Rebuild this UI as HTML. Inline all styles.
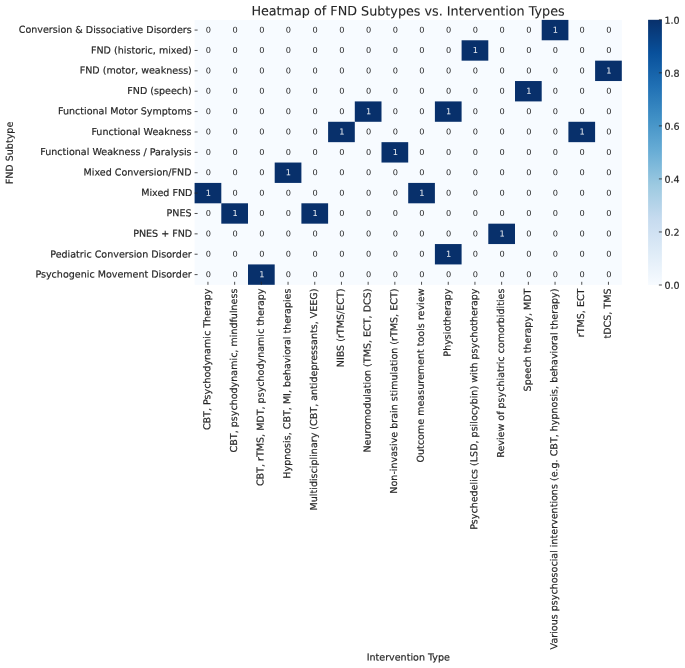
<!DOCTYPE html>
<html lang="en"><head><meta charset="utf-8"><title>Heatmap of FND Subtypes vs. Intervention Types</title>
<style>html,body{margin:0;padding:0;background:#fff}body{width:685px;height:668px;overflow:hidden}svg{display:block}text{font-family:"DejaVu Sans","Liberation Sans",sans-serif;fill:#262626;stroke:#262626;stroke-width:0.18px}.an text{stroke-width:0px}</style></head><body>
<svg width="685" height="668" viewBox="0 0 685 668">
<defs><linearGradient id="blues" x1="0" y1="1" x2="0" y2="0">
<stop offset="0" stop-color="#f7fbff"/>
<stop offset="0.125" stop-color="#deebf7"/>
<stop offset="0.25" stop-color="#c6dbef"/>
<stop offset="0.375" stop-color="#9dcae1"/>
<stop offset="0.5" stop-color="#6aaed6"/>
<stop offset="0.625" stop-color="#4191c6"/>
<stop offset="0.75" stop-color="#2070b4"/>
<stop offset="0.875" stop-color="#08509b"/>
<stop offset="1" stop-color="#08306b"/>
</linearGradient></defs>
<rect width="685" height="668" fill="#ffffff"/>
<text transform="matrix(1 0.0005 0 1 408.00 15.40)" font-size="12.76" text-anchor="middle" style="stroke-width:0.1px">Heatmap of FND Subtypes vs. Intervention Types</text>
<rect x="194.60" y="19.90" width="427.20" height="264.90" fill="#f7fbff"/>
<rect x="541.70" y="19.90" width="26.70" height="20.38" fill="#08306b"/>
<rect x="461.60" y="40.28" width="26.70" height="20.38" fill="#08306b"/>
<rect x="595.10" y="60.65" width="26.70" height="20.38" fill="#08306b"/>
<rect x="515.00" y="81.03" width="26.70" height="20.38" fill="#08306b"/>
<rect x="354.80" y="101.41" width="26.70" height="20.38" fill="#08306b"/>
<rect x="434.90" y="101.41" width="26.70" height="20.38" fill="#08306b"/>
<rect x="328.10" y="121.78" width="26.70" height="20.38" fill="#08306b"/>
<rect x="568.40" y="121.78" width="26.70" height="20.38" fill="#08306b"/>
<rect x="381.50" y="142.16" width="26.70" height="20.38" fill="#08306b"/>
<rect x="274.70" y="162.54" width="26.70" height="20.38" fill="#08306b"/>
<rect x="194.60" y="182.92" width="26.70" height="20.38" fill="#08306b"/>
<rect x="408.20" y="182.92" width="26.70" height="20.38" fill="#08306b"/>
<rect x="221.30" y="203.29" width="26.70" height="20.38" fill="#08306b"/>
<rect x="301.40" y="203.29" width="26.70" height="20.38" fill="#08306b"/>
<rect x="488.30" y="223.67" width="26.70" height="20.38" fill="#08306b"/>
<rect x="434.90" y="244.05" width="26.70" height="20.38" fill="#08306b"/>
<rect x="248.00" y="264.42" width="26.70" height="20.38" fill="#08306b"/>
<g class="an" font-size="8.20" text-anchor="middle">
<text transform="matrix(1 0.0005 0 1 208.35 32.69)">0</text>
<text transform="matrix(1 0.0005 0 1 235.05 32.69)">0</text>
<text transform="matrix(1 0.0005 0 1 261.75 32.69)">0</text>
<text transform="matrix(1 0.0005 0 1 288.45 32.69)">0</text>
<text transform="matrix(1 0.0005 0 1 315.15 32.69)">0</text>
<text transform="matrix(1 0.0005 0 1 341.85 32.69)">0</text>
<text transform="matrix(1 0.0005 0 1 368.55 32.69)">0</text>
<text transform="matrix(1 0.0005 0 1 395.25 32.69)">0</text>
<text transform="matrix(1 0.0005 0 1 421.95 32.69)">0</text>
<text transform="matrix(1 0.0005 0 1 448.65 32.69)">0</text>
<text transform="matrix(1 0.0005 0 1 475.35 32.69)">0</text>
<text transform="matrix(1 0.0005 0 1 502.05 32.69)">0</text>
<text transform="matrix(1 0.0005 0 1 528.75 32.69)">0</text>
<text transform="matrix(1 0.0005 0 1 555.45 32.69)" style="fill:#ffffff;stroke:none;fill-opacity:0.9">1</text>
<text transform="matrix(1 0.0005 0 1 582.15 32.69)">0</text>
<text transform="matrix(1 0.0005 0 1 608.85 32.69)">0</text>
<text transform="matrix(1 0.0005 0 1 208.35 53.07)">0</text>
<text transform="matrix(1 0.0005 0 1 235.05 53.07)">0</text>
<text transform="matrix(1 0.0005 0 1 261.75 53.07)">0</text>
<text transform="matrix(1 0.0005 0 1 288.45 53.07)">0</text>
<text transform="matrix(1 0.0005 0 1 315.15 53.07)">0</text>
<text transform="matrix(1 0.0005 0 1 341.85 53.07)">0</text>
<text transform="matrix(1 0.0005 0 1 368.55 53.07)">0</text>
<text transform="matrix(1 0.0005 0 1 395.25 53.07)">0</text>
<text transform="matrix(1 0.0005 0 1 421.95 53.07)">0</text>
<text transform="matrix(1 0.0005 0 1 448.65 53.07)">0</text>
<text transform="matrix(1 0.0005 0 1 475.35 53.07)" style="fill:#ffffff;stroke:none;fill-opacity:0.9">1</text>
<text transform="matrix(1 0.0005 0 1 502.05 53.07)">0</text>
<text transform="matrix(1 0.0005 0 1 528.75 53.07)">0</text>
<text transform="matrix(1 0.0005 0 1 555.45 53.07)">0</text>
<text transform="matrix(1 0.0005 0 1 582.15 53.07)">0</text>
<text transform="matrix(1 0.0005 0 1 608.85 53.07)">0</text>
<text transform="matrix(1 0.0005 0 1 208.35 73.44)">0</text>
<text transform="matrix(1 0.0005 0 1 235.05 73.44)">0</text>
<text transform="matrix(1 0.0005 0 1 261.75 73.44)">0</text>
<text transform="matrix(1 0.0005 0 1 288.45 73.44)">0</text>
<text transform="matrix(1 0.0005 0 1 315.15 73.44)">0</text>
<text transform="matrix(1 0.0005 0 1 341.85 73.44)">0</text>
<text transform="matrix(1 0.0005 0 1 368.55 73.44)">0</text>
<text transform="matrix(1 0.0005 0 1 395.25 73.44)">0</text>
<text transform="matrix(1 0.0005 0 1 421.95 73.44)">0</text>
<text transform="matrix(1 0.0005 0 1 448.65 73.44)">0</text>
<text transform="matrix(1 0.0005 0 1 475.35 73.44)">0</text>
<text transform="matrix(1 0.0005 0 1 502.05 73.44)">0</text>
<text transform="matrix(1 0.0005 0 1 528.75 73.44)">0</text>
<text transform="matrix(1 0.0005 0 1 555.45 73.44)">0</text>
<text transform="matrix(1 0.0005 0 1 582.15 73.44)">0</text>
<text transform="matrix(1 0.0005 0 1 608.85 73.44)" style="fill:#ffffff;stroke:none;fill-opacity:0.9">1</text>
<text transform="matrix(1 0.0005 0 1 208.35 93.82)">0</text>
<text transform="matrix(1 0.0005 0 1 235.05 93.82)">0</text>
<text transform="matrix(1 0.0005 0 1 261.75 93.82)">0</text>
<text transform="matrix(1 0.0005 0 1 288.45 93.82)">0</text>
<text transform="matrix(1 0.0005 0 1 315.15 93.82)">0</text>
<text transform="matrix(1 0.0005 0 1 341.85 93.82)">0</text>
<text transform="matrix(1 0.0005 0 1 368.55 93.82)">0</text>
<text transform="matrix(1 0.0005 0 1 395.25 93.82)">0</text>
<text transform="matrix(1 0.0005 0 1 421.95 93.82)">0</text>
<text transform="matrix(1 0.0005 0 1 448.65 93.82)">0</text>
<text transform="matrix(1 0.0005 0 1 475.35 93.82)">0</text>
<text transform="matrix(1 0.0005 0 1 502.05 93.82)">0</text>
<text transform="matrix(1 0.0005 0 1 528.75 93.82)" style="fill:#ffffff;stroke:none;fill-opacity:0.9">1</text>
<text transform="matrix(1 0.0005 0 1 555.45 93.82)">0</text>
<text transform="matrix(1 0.0005 0 1 582.15 93.82)">0</text>
<text transform="matrix(1 0.0005 0 1 608.85 93.82)">0</text>
<text transform="matrix(1 0.0005 0 1 208.35 114.20)">0</text>
<text transform="matrix(1 0.0005 0 1 235.05 114.20)">0</text>
<text transform="matrix(1 0.0005 0 1 261.75 114.20)">0</text>
<text transform="matrix(1 0.0005 0 1 288.45 114.20)">0</text>
<text transform="matrix(1 0.0005 0 1 315.15 114.20)">0</text>
<text transform="matrix(1 0.0005 0 1 341.85 114.20)">0</text>
<text transform="matrix(1 0.0005 0 1 368.55 114.20)" style="fill:#ffffff;stroke:none;fill-opacity:0.9">1</text>
<text transform="matrix(1 0.0005 0 1 395.25 114.20)">0</text>
<text transform="matrix(1 0.0005 0 1 421.95 114.20)">0</text>
<text transform="matrix(1 0.0005 0 1 448.65 114.20)" style="fill:#ffffff;stroke:none;fill-opacity:0.9">1</text>
<text transform="matrix(1 0.0005 0 1 475.35 114.20)">0</text>
<text transform="matrix(1 0.0005 0 1 502.05 114.20)">0</text>
<text transform="matrix(1 0.0005 0 1 528.75 114.20)">0</text>
<text transform="matrix(1 0.0005 0 1 555.45 114.20)">0</text>
<text transform="matrix(1 0.0005 0 1 582.15 114.20)">0</text>
<text transform="matrix(1 0.0005 0 1 608.85 114.20)">0</text>
<text transform="matrix(1 0.0005 0 1 208.35 134.57)">0</text>
<text transform="matrix(1 0.0005 0 1 235.05 134.57)">0</text>
<text transform="matrix(1 0.0005 0 1 261.75 134.57)">0</text>
<text transform="matrix(1 0.0005 0 1 288.45 134.57)">0</text>
<text transform="matrix(1 0.0005 0 1 315.15 134.57)">0</text>
<text transform="matrix(1 0.0005 0 1 341.85 134.57)" style="fill:#ffffff;stroke:none;fill-opacity:0.9">1</text>
<text transform="matrix(1 0.0005 0 1 368.55 134.57)">0</text>
<text transform="matrix(1 0.0005 0 1 395.25 134.57)">0</text>
<text transform="matrix(1 0.0005 0 1 421.95 134.57)">0</text>
<text transform="matrix(1 0.0005 0 1 448.65 134.57)">0</text>
<text transform="matrix(1 0.0005 0 1 475.35 134.57)">0</text>
<text transform="matrix(1 0.0005 0 1 502.05 134.57)">0</text>
<text transform="matrix(1 0.0005 0 1 528.75 134.57)">0</text>
<text transform="matrix(1 0.0005 0 1 555.45 134.57)">0</text>
<text transform="matrix(1 0.0005 0 1 582.15 134.57)" style="fill:#ffffff;stroke:none;fill-opacity:0.9">1</text>
<text transform="matrix(1 0.0005 0 1 608.85 134.57)">0</text>
<text transform="matrix(1 0.0005 0 1 208.35 154.95)">0</text>
<text transform="matrix(1 0.0005 0 1 235.05 154.95)">0</text>
<text transform="matrix(1 0.0005 0 1 261.75 154.95)">0</text>
<text transform="matrix(1 0.0005 0 1 288.45 154.95)">0</text>
<text transform="matrix(1 0.0005 0 1 315.15 154.95)">0</text>
<text transform="matrix(1 0.0005 0 1 341.85 154.95)">0</text>
<text transform="matrix(1 0.0005 0 1 368.55 154.95)">0</text>
<text transform="matrix(1 0.0005 0 1 395.25 154.95)" style="fill:#ffffff;stroke:none;fill-opacity:0.9">1</text>
<text transform="matrix(1 0.0005 0 1 421.95 154.95)">0</text>
<text transform="matrix(1 0.0005 0 1 448.65 154.95)">0</text>
<text transform="matrix(1 0.0005 0 1 475.35 154.95)">0</text>
<text transform="matrix(1 0.0005 0 1 502.05 154.95)">0</text>
<text transform="matrix(1 0.0005 0 1 528.75 154.95)">0</text>
<text transform="matrix(1 0.0005 0 1 555.45 154.95)">0</text>
<text transform="matrix(1 0.0005 0 1 582.15 154.95)">0</text>
<text transform="matrix(1 0.0005 0 1 608.85 154.95)">0</text>
<text transform="matrix(1 0.0005 0 1 208.35 175.33)">0</text>
<text transform="matrix(1 0.0005 0 1 235.05 175.33)">0</text>
<text transform="matrix(1 0.0005 0 1 261.75 175.33)">0</text>
<text transform="matrix(1 0.0005 0 1 288.45 175.33)" style="fill:#ffffff;stroke:none;fill-opacity:0.9">1</text>
<text transform="matrix(1 0.0005 0 1 315.15 175.33)">0</text>
<text transform="matrix(1 0.0005 0 1 341.85 175.33)">0</text>
<text transform="matrix(1 0.0005 0 1 368.55 175.33)">0</text>
<text transform="matrix(1 0.0005 0 1 395.25 175.33)">0</text>
<text transform="matrix(1 0.0005 0 1 421.95 175.33)">0</text>
<text transform="matrix(1 0.0005 0 1 448.65 175.33)">0</text>
<text transform="matrix(1 0.0005 0 1 475.35 175.33)">0</text>
<text transform="matrix(1 0.0005 0 1 502.05 175.33)">0</text>
<text transform="matrix(1 0.0005 0 1 528.75 175.33)">0</text>
<text transform="matrix(1 0.0005 0 1 555.45 175.33)">0</text>
<text transform="matrix(1 0.0005 0 1 582.15 175.33)">0</text>
<text transform="matrix(1 0.0005 0 1 608.85 175.33)">0</text>
<text transform="matrix(1 0.0005 0 1 208.35 195.70)" style="fill:#ffffff;stroke:none;fill-opacity:0.9">1</text>
<text transform="matrix(1 0.0005 0 1 235.05 195.70)">0</text>
<text transform="matrix(1 0.0005 0 1 261.75 195.70)">0</text>
<text transform="matrix(1 0.0005 0 1 288.45 195.70)">0</text>
<text transform="matrix(1 0.0005 0 1 315.15 195.70)">0</text>
<text transform="matrix(1 0.0005 0 1 341.85 195.70)">0</text>
<text transform="matrix(1 0.0005 0 1 368.55 195.70)">0</text>
<text transform="matrix(1 0.0005 0 1 395.25 195.70)">0</text>
<text transform="matrix(1 0.0005 0 1 421.95 195.70)" style="fill:#ffffff;stroke:none;fill-opacity:0.9">1</text>
<text transform="matrix(1 0.0005 0 1 448.65 195.70)">0</text>
<text transform="matrix(1 0.0005 0 1 475.35 195.70)">0</text>
<text transform="matrix(1 0.0005 0 1 502.05 195.70)">0</text>
<text transform="matrix(1 0.0005 0 1 528.75 195.70)">0</text>
<text transform="matrix(1 0.0005 0 1 555.45 195.70)">0</text>
<text transform="matrix(1 0.0005 0 1 582.15 195.70)">0</text>
<text transform="matrix(1 0.0005 0 1 608.85 195.70)">0</text>
<text transform="matrix(1 0.0005 0 1 208.35 216.08)">0</text>
<text transform="matrix(1 0.0005 0 1 235.05 216.08)" style="fill:#ffffff;stroke:none;fill-opacity:0.9">1</text>
<text transform="matrix(1 0.0005 0 1 261.75 216.08)">0</text>
<text transform="matrix(1 0.0005 0 1 288.45 216.08)">0</text>
<text transform="matrix(1 0.0005 0 1 315.15 216.08)" style="fill:#ffffff;stroke:none;fill-opacity:0.9">1</text>
<text transform="matrix(1 0.0005 0 1 341.85 216.08)">0</text>
<text transform="matrix(1 0.0005 0 1 368.55 216.08)">0</text>
<text transform="matrix(1 0.0005 0 1 395.25 216.08)">0</text>
<text transform="matrix(1 0.0005 0 1 421.95 216.08)">0</text>
<text transform="matrix(1 0.0005 0 1 448.65 216.08)">0</text>
<text transform="matrix(1 0.0005 0 1 475.35 216.08)">0</text>
<text transform="matrix(1 0.0005 0 1 502.05 216.08)">0</text>
<text transform="matrix(1 0.0005 0 1 528.75 216.08)">0</text>
<text transform="matrix(1 0.0005 0 1 555.45 216.08)">0</text>
<text transform="matrix(1 0.0005 0 1 582.15 216.08)">0</text>
<text transform="matrix(1 0.0005 0 1 608.85 216.08)">0</text>
<text transform="matrix(1 0.0005 0 1 208.35 236.46)">0</text>
<text transform="matrix(1 0.0005 0 1 235.05 236.46)">0</text>
<text transform="matrix(1 0.0005 0 1 261.75 236.46)">0</text>
<text transform="matrix(1 0.0005 0 1 288.45 236.46)">0</text>
<text transform="matrix(1 0.0005 0 1 315.15 236.46)">0</text>
<text transform="matrix(1 0.0005 0 1 341.85 236.46)">0</text>
<text transform="matrix(1 0.0005 0 1 368.55 236.46)">0</text>
<text transform="matrix(1 0.0005 0 1 395.25 236.46)">0</text>
<text transform="matrix(1 0.0005 0 1 421.95 236.46)">0</text>
<text transform="matrix(1 0.0005 0 1 448.65 236.46)">0</text>
<text transform="matrix(1 0.0005 0 1 475.35 236.46)">0</text>
<text transform="matrix(1 0.0005 0 1 502.05 236.46)" style="fill:#ffffff;stroke:none;fill-opacity:0.9">1</text>
<text transform="matrix(1 0.0005 0 1 528.75 236.46)">0</text>
<text transform="matrix(1 0.0005 0 1 555.45 236.46)">0</text>
<text transform="matrix(1 0.0005 0 1 582.15 236.46)">0</text>
<text transform="matrix(1 0.0005 0 1 608.85 236.46)">0</text>
<text transform="matrix(1 0.0005 0 1 208.35 256.83)">0</text>
<text transform="matrix(1 0.0005 0 1 235.05 256.83)">0</text>
<text transform="matrix(1 0.0005 0 1 261.75 256.83)">0</text>
<text transform="matrix(1 0.0005 0 1 288.45 256.83)">0</text>
<text transform="matrix(1 0.0005 0 1 315.15 256.83)">0</text>
<text transform="matrix(1 0.0005 0 1 341.85 256.83)">0</text>
<text transform="matrix(1 0.0005 0 1 368.55 256.83)">0</text>
<text transform="matrix(1 0.0005 0 1 395.25 256.83)">0</text>
<text transform="matrix(1 0.0005 0 1 421.95 256.83)">0</text>
<text transform="matrix(1 0.0005 0 1 448.65 256.83)" style="fill:#ffffff;stroke:none;fill-opacity:0.9">1</text>
<text transform="matrix(1 0.0005 0 1 475.35 256.83)">0</text>
<text transform="matrix(1 0.0005 0 1 502.05 256.83)">0</text>
<text transform="matrix(1 0.0005 0 1 528.75 256.83)">0</text>
<text transform="matrix(1 0.0005 0 1 555.45 256.83)">0</text>
<text transform="matrix(1 0.0005 0 1 582.15 256.83)">0</text>
<text transform="matrix(1 0.0005 0 1 608.85 256.83)">0</text>
<text transform="matrix(1 0.0005 0 1 208.35 277.21)">0</text>
<text transform="matrix(1 0.0005 0 1 235.05 277.21)">0</text>
<text transform="matrix(1 0.0005 0 1 261.75 277.21)" style="fill:#ffffff;stroke:none;fill-opacity:0.9">1</text>
<text transform="matrix(1 0.0005 0 1 288.45 277.21)">0</text>
<text transform="matrix(1 0.0005 0 1 315.15 277.21)">0</text>
<text transform="matrix(1 0.0005 0 1 341.85 277.21)">0</text>
<text transform="matrix(1 0.0005 0 1 368.55 277.21)">0</text>
<text transform="matrix(1 0.0005 0 1 395.25 277.21)">0</text>
<text transform="matrix(1 0.0005 0 1 421.95 277.21)">0</text>
<text transform="matrix(1 0.0005 0 1 448.65 277.21)">0</text>
<text transform="matrix(1 0.0005 0 1 475.35 277.21)">0</text>
<text transform="matrix(1 0.0005 0 1 502.05 277.21)">0</text>
<text transform="matrix(1 0.0005 0 1 528.75 277.21)">0</text>
<text transform="matrix(1 0.0005 0 1 555.45 277.21)">0</text>
<text transform="matrix(1 0.0005 0 1 582.15 277.21)">0</text>
<text transform="matrix(1 0.0005 0 1 608.85 277.21)">0</text>
</g>
<g font-size="9.56" text-anchor="end">
<text transform="matrix(1 0.0005 0 1 191.70 32.94)">Conversion &amp; Dissociative Disorders</text>
<text transform="matrix(1 0.0005 0 1 191.85 53.47)">FND (historic, mixed)</text>
<text transform="matrix(1 0.0005 0 1 191.85 73.64)">FND (motor, weakness)</text>
<text transform="matrix(1 0.0005 0 1 191.85 94.02)">FND (speech)</text>
<text transform="matrix(1 0.0005 0 1 191.70 114.40)">Functional Motor Symptoms</text>
<text transform="matrix(1 0.0005 0 1 191.55 135.12)">Functional Weakness</text>
<text transform="matrix(1 0.0005 0 1 191.55 155.15)">Functional Weakness / Paralysis</text>
<text transform="matrix(1 0.0005 0 1 191.55 175.53)">Mixed Conversion/FND</text>
<text transform="matrix(1 0.0005 0 1 192.40 195.90)">Mixed FND</text>
<text transform="matrix(1 0.0005 0 1 191.50 216.28)">PNES</text>
<text transform="matrix(1 0.0005 0 1 192.20 236.81)">PNES + FND</text>
<text transform="matrix(1 0.0005 0 1 191.70 257.58)">Pediatric Conversion Disorder</text>
<text transform="matrix(1 0.0005 0 1 191.70 277.56)">Psychogenic Movement Disorder</text>
</g>
<g stroke="#262626" stroke-width="0.9" stroke-opacity="0.9">
<line x1="194.60" y1="30.09" x2="197.60" y2="30.09"/>
<line x1="194.60" y1="50.47" x2="197.60" y2="50.47"/>
<line x1="194.60" y1="70.84" x2="197.60" y2="70.84"/>
<line x1="194.60" y1="91.22" x2="197.60" y2="91.22"/>
<line x1="194.60" y1="111.60" x2="197.60" y2="111.60"/>
<line x1="194.60" y1="131.97" x2="197.60" y2="131.97"/>
<line x1="194.60" y1="152.35" x2="197.60" y2="152.35"/>
<line x1="194.60" y1="172.73" x2="197.60" y2="172.73"/>
<line x1="194.60" y1="193.10" x2="197.60" y2="193.10"/>
<line x1="194.60" y1="213.48" x2="197.60" y2="213.48"/>
<line x1="194.60" y1="233.86" x2="197.60" y2="233.86"/>
<line x1="194.60" y1="254.23" x2="197.60" y2="254.23"/>
<line x1="194.60" y1="274.61" x2="197.60" y2="274.61"/>
<line x1="207.95" y1="281.80" x2="207.95" y2="284.80"/>
<line x1="234.65" y1="281.80" x2="234.65" y2="284.80"/>
<line x1="261.35" y1="281.80" x2="261.35" y2="284.80"/>
<line x1="288.05" y1="281.80" x2="288.05" y2="284.80"/>
<line x1="314.75" y1="281.80" x2="314.75" y2="284.80"/>
<line x1="341.45" y1="281.80" x2="341.45" y2="284.80"/>
<line x1="368.15" y1="281.80" x2="368.15" y2="284.80"/>
<line x1="394.85" y1="281.80" x2="394.85" y2="284.80"/>
<line x1="421.55" y1="281.80" x2="421.55" y2="284.80"/>
<line x1="448.25" y1="281.80" x2="448.25" y2="284.80"/>
<line x1="474.95" y1="281.80" x2="474.95" y2="284.80"/>
<line x1="501.65" y1="281.80" x2="501.65" y2="284.80"/>
<line x1="528.35" y1="281.80" x2="528.35" y2="284.80"/>
<line x1="555.05" y1="281.80" x2="555.05" y2="284.80"/>
<line x1="581.75" y1="281.80" x2="581.75" y2="284.80"/>
<line x1="608.45" y1="281.80" x2="608.45" y2="284.80"/>
</g>
<g font-size="9.56" text-anchor="end">
<text transform="matrix(0.0005 -1 1 0 210.30 288.55)">CBT, Psychodynamic Therapy</text>
<text transform="matrix(0.0005 -1 1 0 237.00 288.55)">CBT, psychodynamic, mindfulness</text>
<text transform="matrix(0.0005 -1 1 0 263.70 288.55)">CBT, rTMS, MDT, psychodynamic therapy</text>
<text transform="matrix(0.0005 -1 1 0 290.40 288.55)">Hypnosis, CBT, MI, behavioral therapies</text>
<text transform="matrix(0.0005 -1 1 0 317.10 288.55)">Multidisciplinary (CBT, antidepressants, VEEG)</text>
<text transform="matrix(0.0005 -1 1 0 343.80 288.55)">NIBS (rTMS/ECT)</text>
<text transform="matrix(0.0005 -1 1 0 370.50 288.55)">Neuromodulation (TMS, ECT, DCS)</text>
<text transform="matrix(0.0005 -1 1 0 397.20 288.55)">Non-invasive brain stimulation (rTMS, ECT)</text>
<text transform="matrix(0.0005 -1 1 0 423.90 288.55)">Outcome measurement tools review</text>
<text transform="matrix(0.0005 -1 1 0 450.60 288.55)">Physiotherapy</text>
<text transform="matrix(0.0005 -1 1 0 477.30 288.55)">Psychedelics (LSD, psilocybin) with psychotherapy</text>
<text transform="matrix(0.0005 -1 1 0 504.00 288.55)">Review of psychiatric comorbidities</text>
<text transform="matrix(0.0005 -1 1 0 530.70 288.55)">Speech therapy, MDT</text>
<text transform="matrix(0.0005 -1 1 0 557.40 288.55)">Various psychosocial interventions (e.g. CBT, hypnosis, behavioral therapy)</text>
<text transform="matrix(0.0005 -1 1 0 584.10 288.55)">rTMS, ECT</text>
<text transform="matrix(0.0005 -1 1 0 610.80 288.55)">tDCS, TMS</text>
</g>
<text font-size="9.56" text-anchor="middle" transform="matrix(0.0005 -1 1 0 12.80 153.00)">FND Subtype</text>
<text font-size="9.56" text-anchor="middle" transform="matrix(1 0.0005 0 1 408.30 660.40)">Intervention Type</text>
<rect x="648.10" y="19.80" width="13.80" height="265.20" fill="url(#blues)"/>
<g stroke="#262626" stroke-width="0.9" stroke-opacity="0.9">
<line x1="658.90" y1="285.00" x2="661.90" y2="285.00"/>
<line x1="658.90" y1="231.96" x2="661.90" y2="231.96"/>
<line x1="658.90" y1="178.92" x2="661.90" y2="178.92"/>
<line x1="658.90" y1="125.88" x2="661.90" y2="125.88"/>
<line x1="658.90" y1="72.84" x2="661.90" y2="72.84"/>
<line x1="658.90" y1="19.80" x2="661.90" y2="19.80"/>
</g>
<g font-size="9.56">
<text transform="matrix(1 0.0005 0 1 664.50 288.85)">0.0</text>
<text transform="matrix(1 0.0005 0 1 664.50 235.81)">0.2</text>
<text transform="matrix(1 0.0005 0 1 664.50 182.77)">0.4</text>
<text transform="matrix(1 0.0005 0 1 664.50 129.73)">0.6</text>
<text transform="matrix(1 0.0005 0 1 664.50 76.69)">0.8</text>
<text transform="matrix(1 0.0005 0 1 664.50 23.65)">1.0</text>
</g>
</svg></body></html>
